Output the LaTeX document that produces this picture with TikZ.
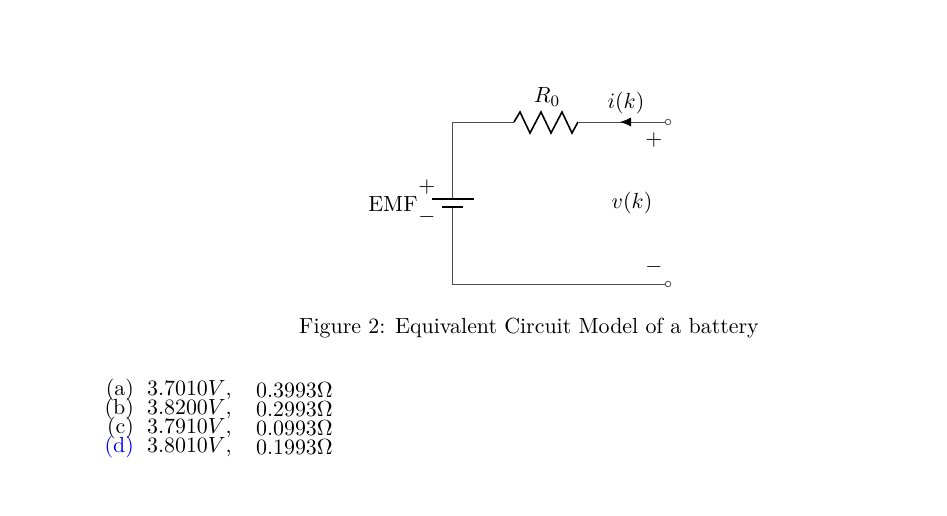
\documentclass[tikz,border=0pt]{standalone}
\usetikzlibrary{arrows.meta}
\begin{document}
\begin{tikzpicture}[x=0.5pt,y=-0.5pt,
  every node/.style={font=\fontsize{10.95}{13}\selectfont},
  wire/.style={draw=black!70,line width=0.4pt},
  term/.style={circle,draw=black!70,fill=white,inner sep=0pt,minimum size=2.8pt}]
\useasboundingbox (0,0) rectangle (947,515);
\coordinate (tl) at (452,122);
\coordinate (bl) at (452,284);
\coordinate (bp) at (452,199);
\coordinate (bn) at (452,207);
\coordinate (rs) at (514,122);
\coordinate (re) at (578,122);
\node[term] (tp) at (668,122) {};
\node[term] (tn) at (668,284) {};
\draw[wire] (bp) -- (tl) -- (rs);
\draw[line width=0.8pt] (rs) -- (520,112) -- (530,133) -- (541,112) -- (551,133) -- (562,112) -- (572,133) -- (re);
\draw[wire] (re) -- (tp);
\draw[wire] (bn) -- (bl) -- (tn);
\draw[-{Latex[length=5.5pt,width=4.5pt,black]},wire] (640,122) -- (620,122);
\draw[line width=1.1pt] (432,199) -- (474,199);
\draw[line width=1.1pt] (442,207) -- (463,207);
\node[anchor=east,inner sep=0pt] (emf) at (418,204) {EMF};
\node (bplus) at (427,187) {$+$};
\node (bminus) at (427,217) {$-$};
\node (r0) at (547,97) {$R_0$};
\node (ik) at (626,103) {$i(k)$};
\node (vp) at (654,140) {$+$};
\node (vk) at (632,203) {$v(k)$};
\node (vm) at (654,267) {$-$};
\node (cap) at (529,328) {Figure 2: Equivalent Circuit Model of a battery};
\node[anchor=east] (la) at (141,390) {(a)};
\node[anchor=east] (lb) at (141,409) {(b)};
\node[anchor=east] (lc) at (141,428) {(c)};
\node[anchor=east,text=blue] (ld) at (141,447) {(d)};
\node[anchor=west] (va) at (140,390) {3.7010$V$,};
\node[anchor=west] (vb) at (140,409) {3.8200$V$,};
\node[anchor=west] (vc) at (140,428) {3.7910$V$,};
\node[anchor=west] (vd) at (140,447) {3.8010$V$,};
\node[anchor=west] (wa) at (249,390) {0.3993$\Omega$};
\node[anchor=west] (wb) at (249,409) {0.2993$\Omega$};
\node[anchor=west] (wc) at (249,428) {0.0993$\Omega$};
\node[anchor=west] (wd) at (249,447) {0.1993$\Omega$};
\end{tikzpicture}
\end{document}
